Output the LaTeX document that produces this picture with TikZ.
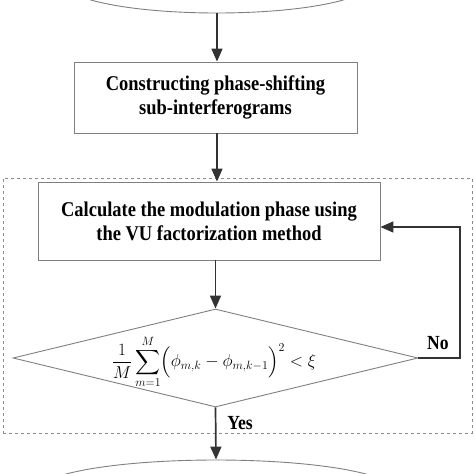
\documentclass[tikz,border=0pt]{standalone}
\usepackage{amsmath}
\usepackage{fontspec}
\setmainfont{Liberation Serif}
\newfontfamily\condserif[FakeStretch=0.88]{Liberation Serif}
\usetikzlibrary{shapes.geometric,arrows.meta}
\tikzset{
  x=1pt,y=-1pt,
  boxstyle/.style={draw=black!50,line width=0.9pt,rectangle,inner sep=0pt,align=center,
     font=\condserif\fontsize{21}{24}\selectfont\bfseries},
  ellstyle/.style={draw=black!50,line width=0.9pt,ellipse,inner sep=0pt},
  arr/.style={draw=black!80,line width=1.7pt,-{Triangle[length=13pt,width=11pt]}},
  lbl/.style={font=\condserif\fontsize{20}{22}\selectfont\bfseries,inner sep=0pt}
}
\begin{document}
\begin{tikzpicture}
\useasboundingbox (0,0) rectangle (474,474);
\clip (0,0) rectangle (474,474);
\fill[white] (0,0) rectangle (474,474);
\node[ellstyle,minimum width=306pt,minimum height=60pt] (top) at (217,-17) {};
\node[ellstyle,minimum width=354pt,minimum height=60pt] (bot) at (216,490) {};
\node[draw=black!45,dashed,line width=0.9pt,rectangle,minimum width=469pt,minimum height=255pt] (loop) at (237.7,305.5) {};
\node[boxstyle,minimum width=283pt,minimum height=71pt] (b1) at (215.5,97.5) {Constructing phase-shifting\\sub-interferograms};
\node[boxstyle,minimum width=342pt,minimum height=78pt] (b2) at (209,221) {Calculate the modulation phase using\\the VU factorization method};
\node[draw=black!50,line width=0.9pt,diamond,inner sep=0pt,shape aspect=4.13,minimum width=405pt,minimum height=98pt] (dia) at (215.5,358) {};
\node[inner sep=0pt,font=\fontsize{16.5}{20}\selectfont] (frm) at (214,362)
  {$\displaystyle \frac{1}{M}\sum_{m=1}^{M}\Bigl(\phi_{m,k}-\phi_{m,k-1}\Bigr)^{2}<\xi$};
\coordinate (noc) at (460,227);
\draw[arr] (top.south) -- (b1.north -| top.south);
\draw[arr] (b1.south -| top.south) -- (b2.north -| top.south);
\draw[arr] (b2.south -| dia.north) -- (dia.north);
\draw[arr] (dia.east) -| (noc) -- (b2.east |- noc);
\draw[arr] (dia.south) -- (bot.north);
\node[lbl] (no) at (438,343) {No};
\node[lbl] (yes) at (240,423) {Yes};
\end{tikzpicture}
\end{document}
